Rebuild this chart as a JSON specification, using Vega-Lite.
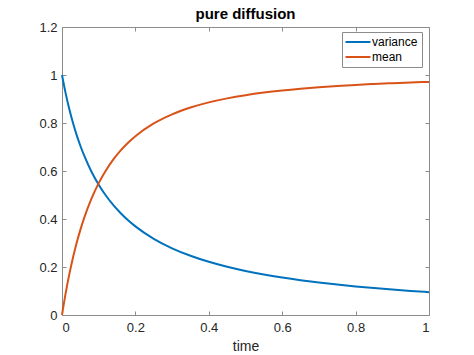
{
  "$schema": "https://vega.github.io/schema/vega-lite/v6.json",
  "width": 367,
  "height": 288,
  "autosize": {"type": "none"},
  "padding": {"left": 62, "top": 27, "right": 45, "bottom": 40},
  "background": "white",
  "config": {
    "view": {"stroke": null},
    "font": "Liberation Sans",
    "axis": {
      "grid": false,
      "domainColor": "#8c8c8c",
      "domainWidth": 1,
      "tickColor": "#8c8c8c",
      "tickSize": -4,
      "labelColor": "#262626",
      "labelFontSize": 13,
      "labelFont": "Liberation Sans",
      "titleFont": "Liberation Sans",
      "titleFontSize": 14,
      "titleFontWeight": "normal",
      "titleColor": "#262626"
    }
  },
  "title": {
    "text": "pure diffusion",
    "fontSize": 15,
    "fontWeight": "bold",
    "font": "Liberation Sans",
    "color": "#000000",
    "anchor": "middle",
    "offset": -1
  },
  "data": {
    "values": [
      {"t": 0, "value": 1.0, "series": "variance"},
      {"t": 0.01, "value": 0.9233, "series": "variance"},
      {"t": 0.02, "value": 0.8573, "series": "variance"},
      {"t": 0.03, "value": 0.7999, "series": "variance"},
      {"t": 0.04, "value": 0.7496, "series": "variance"},
      {"t": 0.05, "value": 0.7052, "series": "variance"},
      {"t": 0.06, "value": 0.6657, "series": "variance"},
      {"t": 0.08, "value": 0.5981, "series": "variance"},
      {"t": 0.10, "value": 0.5429, "series": "variance"},
      {"t": 0.12, "value": 0.4968, "series": "variance"},
      {"t": 0.14, "value": 0.4575, "series": "variance"},
      {"t": 0.16, "value": 0.4240, "series": "variance"},
      {"t": 0.18, "value": 0.3948, "series": "variance"},
      {"t": 0.20, "value": 0.3693, "series": "variance"},
      {"t": 0.25, "value": 0.3175, "series": "variance"},
      {"t": 0.30, "value": 0.2779, "series": "variance"},
      {"t": 0.35, "value": 0.2468, "series": "variance"},
      {"t": 0.40, "value": 0.2216, "series": "variance"},
      {"t": 0.45, "value": 0.2009, "series": "variance"},
      {"t": 0.50, "value": 0.1835, "series": "variance"},
      {"t": 0.55, "value": 0.1687, "series": "variance"},
      {"t": 0.60, "value": 0.1560, "series": "variance"},
      {"t": 0.65, "value": 0.1449, "series": "variance"},
      {"t": 0.70, "value": 0.1352, "series": "variance"},
      {"t": 0.75, "value": 0.1266, "series": "variance"},
      {"t": 0.80, "value": 0.1189, "series": "variance"},
      {"t": 0.85, "value": 0.1121, "series": "variance"},
      {"t": 0.90, "value": 0.1059, "series": "variance"},
      {"t": 0.95, "value": 0.1003, "series": "variance"},
      {"t": 1.00, "value": 0.0952, "series": "variance"},
      {"t": 0, "value": 0.0, "series": "mean"},
      {"t": 0.01, "value": 0.0912, "series": "mean"},
      {"t": 0.02, "value": 0.1705, "series": "mean"},
      {"t": 0.03, "value": 0.2399, "series": "mean"},
      {"t": 0.04, "value": 0.3009, "series": "mean"},
      {"t": 0.05, "value": 0.3548, "series": "mean"},
      {"t": 0.06, "value": 0.4028, "series": "mean"},
      {"t": 0.08, "value": 0.4839, "series": "mean"},
      {"t": 0.10, "value": 0.5496, "series": "mean"},
      {"t": 0.12, "value": 0.6034, "series": "mean"},
      {"t": 0.14, "value": 0.6482, "series": "mean"},
      {"t": 0.16, "value": 0.6858, "series": "mean"},
      {"t": 0.18, "value": 0.7177, "series": "mean"},
      {"t": 0.20, "value": 0.7449, "series": "mean"},
      {"t": 0.25, "value": 0.7980, "series": "mean"},
      {"t": 0.30, "value": 0.8361, "series": "mean"},
      {"t": 0.35, "value": 0.8643, "series": "mean"},
      {"t": 0.40, "value": 0.8859, "series": "mean"},
      {"t": 0.45, "value": 0.9026, "series": "mean"},
      {"t": 0.50, "value": 0.9160, "series": "mean"},
      {"t": 0.55, "value": 0.9268, "series": "mean"},
      {"t": 0.60, "value": 0.9356, "series": "mean"},
      {"t": 0.65, "value": 0.9429, "series": "mean"},
      {"t": 0.70, "value": 0.9490, "series": "mean"},
      {"t": 0.75, "value": 0.9542, "series": "mean"},
      {"t": 0.80, "value": 0.9587, "series": "mean"},
      {"t": 0.85, "value": 0.9625, "series": "mean"},
      {"t": 0.90, "value": 0.9658, "series": "mean"},
      {"t": 0.95, "value": 0.9687, "series": "mean"},
      {"t": 1.00, "value": 0.9713, "series": "mean"}
    ]
  },
  "layer": [
    {
      "mark": {"type": "line", "strokeWidth": 2, "interpolate": "monotone"},
      "encoding": {
        "x": {
          "field": "t", "type": "quantitative",
          "scale": {"domain": [0, 1], "nice": false, "zero": false},
          "axis": {"orient": "bottom", "values": [0, 0.2, 0.4, 0.6, 0.8, 1], "format": "~g", "title": "time", "labelPadding": 10, "titlePadding": 5}
        },
        "y": {
          "field": "value", "type": "quantitative",
          "scale": {"domain": [0, 1.2], "nice": false},
          "axis": {"orient": "left", "values": [0, 0.2, 0.4, 0.6, 0.8, 1, 1.2], "format": "~g", "title": null, "labelPadding": 9}
        },
        "color": {
          "field": "series", "type": "nominal",
          "scale": {"domain": ["variance", "mean"], "range": ["#0072BD", "#D95319"]},
          "legend": {
            "title": null,
            "orient": "none",
            "legendX": 280,
            "legendY": 5,
            "symbolType": "M-2.5,0H2.5",
            "symbolSize": 100,
            "symbolStrokeWidth": 2,
            "symbolOffset": 6,
            "labelFontSize": 12,
            "labelColor": "#000000",
            "labelFont": "Liberation Sans",
            "strokeColor": "#8c8c8c",
            "fillColor": "white",
            "padding": 4,
            "rowPadding": 3,
            "labelOffset": 8
          }
        }
      }
    },
    {
      "mark": {"type": "line", "strokeOpacity": 0},
      "encoding": {
        "x": {
          "field": "t", "type": "quantitative",
          "axis": {"orient": "top", "values": [0, 0.2, 0.4, 0.6, 0.8, 1], "labels": false, "title": null}
        },
        "y": {
          "field": "value", "type": "quantitative",
          "axis": {"orient": "right", "values": [0, 0.2, 0.4, 0.6, 0.8, 1, 1.2], "labels": false, "title": null}
        },
        "detail": {"field": "series"}
      }
    }
  ],
  "resolve": {"axis": {"x": "independent", "y": "independent"}}
}
